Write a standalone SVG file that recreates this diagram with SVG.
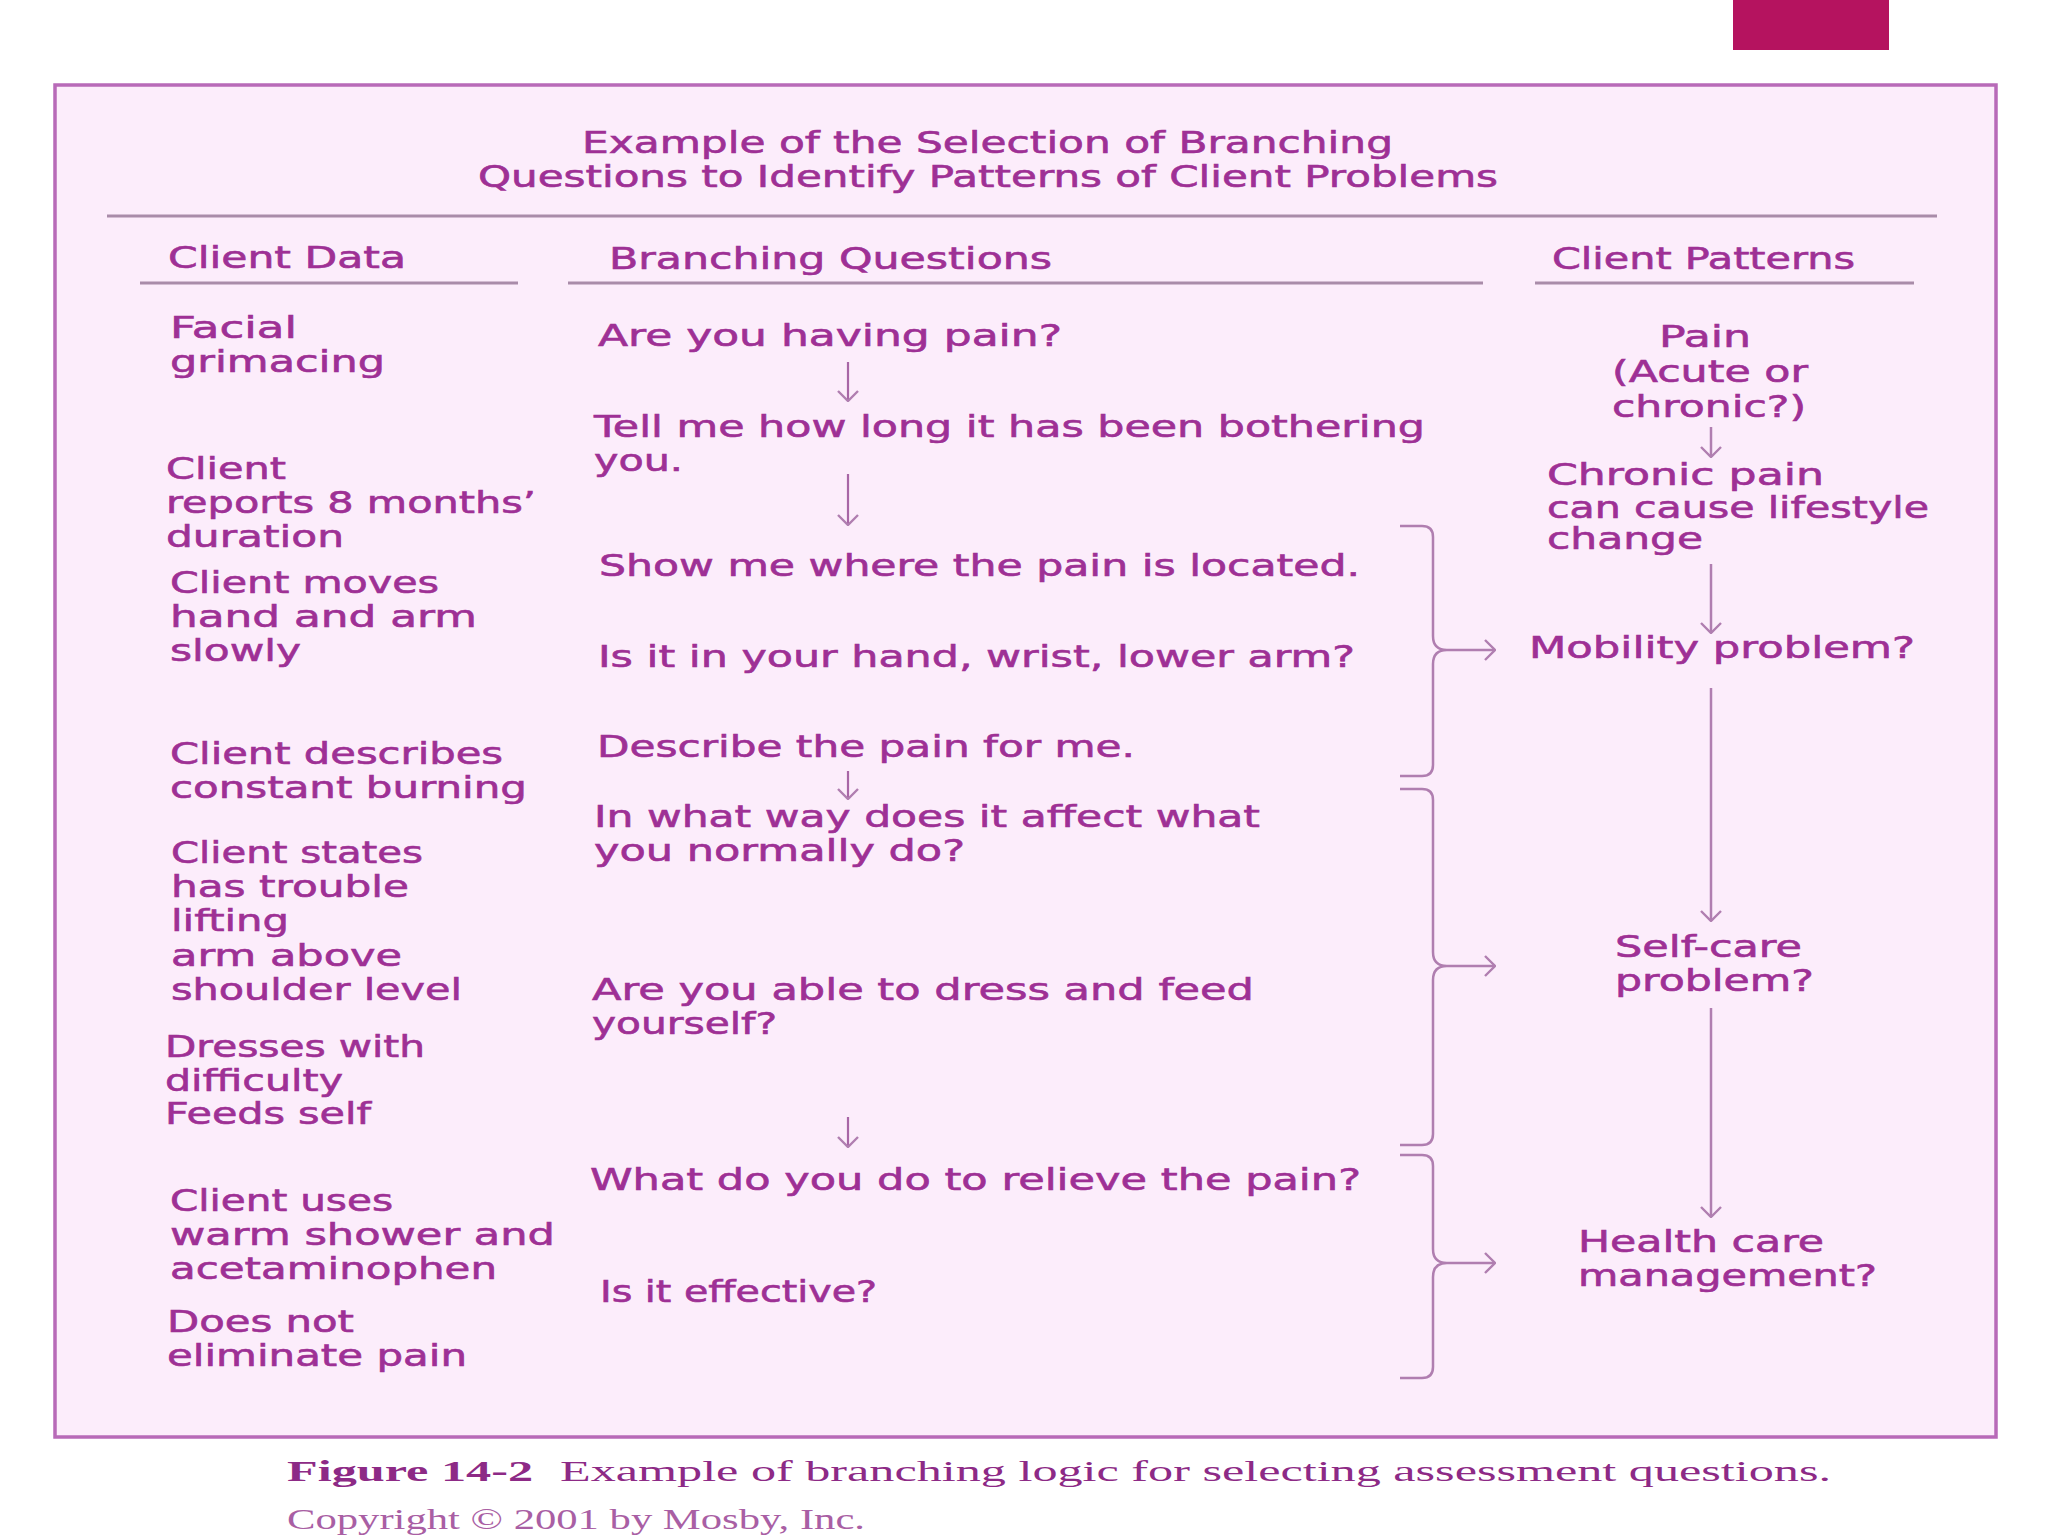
<svg xmlns="http://www.w3.org/2000/svg" width="2048" height="1536" viewBox="0 0 2048 1536">
<defs>
<style>
.t{font-family:"DejaVu Sans","Liberation Sans",sans-serif;font-size:30px;fill:#9e3095;stroke:#9e3095;stroke-width:0.6}
.cap{font-family:"Liberation Serif",serif;font-size:29px;fill:#8d2a86}
.rule{stroke:#a98ca9;stroke-width:3;fill:none}
.br{stroke:#b07eb0;stroke-width:2.5;fill:none}
.ar{stroke:#b07eb0;stroke-width:2.5;fill:none;marker-end:url(#ah)}
.ars{stroke:#a866a6;stroke-width:2.2;fill:none;marker-end:url(#ah)}
</style>
<marker id="ah" viewBox="0 0 12 22" refX="11" refY="11" markerWidth="12" markerHeight="22" markerUnits="userSpaceOnUse" orient="auto">
<path d="M1,1 L11,11 L1,21" fill="none" stroke="#b07eb0" stroke-width="2.4"/>
</marker>
</defs>
<rect width="2048" height="1536" fill="#ffffff"/>
<rect x="1733" y="0" width="156" height="50" fill="#b5135f"/>
<rect x="55" y="85" width="1941" height="1352" fill="#fcedfb" stroke="#b86ab8" stroke-width="3.5"/>

<g id="title">
<text class="t" x="582" y="153" textLength="811" lengthAdjust="spacingAndGlyphs">Example of the Selection of Branching</text>
<text class="t" x="478" y="187" textLength="1020" lengthAdjust="spacingAndGlyphs">Questions to Identify Patterns of Client Problems</text>
</g>
<g id="rules">
<line class="rule" x1="107" y1="216" x2="1937" y2="216"/>
<line class="rule" x1="140" y1="283" x2="518" y2="283"/>
<line class="rule" x1="568" y1="283" x2="1483" y2="283"/>
<line class="rule" x1="1535" y1="283" x2="1914" y2="283"/>
</g>
<g id="headers">
<text class="t" x="168" y="268" textLength="238" lengthAdjust="spacingAndGlyphs">Client Data</text>
<text class="t" x="609" y="269" textLength="443" lengthAdjust="spacingAndGlyphs">Branching Questions</text>
<text class="t" x="1552" y="269" textLength="303" lengthAdjust="spacingAndGlyphs">Client Patterns</text>
</g>

<g id="data-facial">
<text class="t" x="170" y="338" textLength="127" lengthAdjust="spacingAndGlyphs">Facial</text>
<text class="t" x="170" y="372" textLength="215" lengthAdjust="spacingAndGlyphs">grimacing</text>
</g>
<g id="data-duration">
<text class="t" x="166" y="479" textLength="120" lengthAdjust="spacingAndGlyphs">Client</text>
<text class="t" x="166" y="513" textLength="370" lengthAdjust="spacingAndGlyphs">reports 8 months’</text>
<text class="t" x="166" y="547" textLength="178" lengthAdjust="spacingAndGlyphs">duration</text>
</g>
<g id="data-moves">
<text class="t" x="170" y="593" textLength="269" lengthAdjust="spacingAndGlyphs">Client moves</text>
<text class="t" x="170" y="627" textLength="307" lengthAdjust="spacingAndGlyphs">hand and arm</text>
<text class="t" x="170" y="661" textLength="131" lengthAdjust="spacingAndGlyphs">slowly</text>
</g>
<g id="data-burning">
<text class="t" x="170" y="764" textLength="333" lengthAdjust="spacingAndGlyphs">Client describes</text>
<text class="t" x="170" y="798" textLength="357" lengthAdjust="spacingAndGlyphs">constant burning</text>
</g>
<g id="data-lifting">
<text class="t" x="171" y="863" textLength="252" lengthAdjust="spacingAndGlyphs">Client states</text>
<text class="t" x="171" y="897" textLength="238" lengthAdjust="spacingAndGlyphs">has trouble</text>
<text class="t" x="171" y="931" textLength="118" lengthAdjust="spacingAndGlyphs">lifting</text>
<text class="t" x="171" y="966" textLength="231" lengthAdjust="spacingAndGlyphs">arm above</text>
<text class="t" x="171" y="1000" textLength="291" lengthAdjust="spacingAndGlyphs">shoulder level</text>
</g>
<g id="data-dresses">
<text class="t" x="165" y="1057" textLength="260" lengthAdjust="spacingAndGlyphs">Dresses with</text>
<text class="t" x="165" y="1091" textLength="178" lengthAdjust="spacingAndGlyphs">difficulty</text>
<text class="t" x="165" y="1124" textLength="206" lengthAdjust="spacingAndGlyphs">Feeds self</text>
</g>
<g id="data-relief">
<text class="t" x="170" y="1211" textLength="223" lengthAdjust="spacingAndGlyphs">Client uses</text>
<text class="t" x="170" y="1245" textLength="385" lengthAdjust="spacingAndGlyphs">warm shower and</text>
<text class="t" x="170" y="1279" textLength="327" lengthAdjust="spacingAndGlyphs">acetaminophen</text>
</g>
<g id="data-noteliminate">
<text class="t" x="167" y="1332" textLength="187" lengthAdjust="spacingAndGlyphs">Does not</text>
<text class="t" x="167" y="1366" textLength="300" lengthAdjust="spacingAndGlyphs">eliminate pain</text>
</g>

<g id="q-pain">
<text class="t" x="598" y="346" textLength="464" lengthAdjust="spacingAndGlyphs">Are you having pain?</text>
</g>
<g id="q-howlong">
<text class="t" x="594" y="437" textLength="831" lengthAdjust="spacingAndGlyphs">Tell me how long it has been bothering</text>
<text class="t" x="594" y="471" textLength="89" lengthAdjust="spacingAndGlyphs">you.</text>
</g>
<g id="q-where">
<text class="t" x="599" y="576" textLength="761" lengthAdjust="spacingAndGlyphs">Show me where the pain is located.</text>
</g>
<g id="q-hand">
<text class="t" x="598" y="667" textLength="757" lengthAdjust="spacingAndGlyphs">Is it in your hand, wrist, lower arm?</text>
</g>
<g id="q-describe">
<text class="t" x="597" y="757" textLength="538" lengthAdjust="spacingAndGlyphs">Describe the pain for me.</text>
</g>
<g id="q-affect">
<text class="t" x="594" y="827" textLength="666" lengthAdjust="spacingAndGlyphs">In what way does it affect what</text>
<text class="t" x="594" y="861" textLength="371" lengthAdjust="spacingAndGlyphs">you normally do?</text>
</g>
<g id="q-dress">
<text class="t" x="592" y="1000" textLength="662" lengthAdjust="spacingAndGlyphs">Are you able to dress and feed</text>
<text class="t" x="592" y="1034" textLength="185" lengthAdjust="spacingAndGlyphs">yourself?</text>
</g>
<g id="q-relieve">
<text class="t" x="590" y="1190" textLength="771" lengthAdjust="spacingAndGlyphs">What do you do to relieve the pain?</text>
</g>
<g id="q-effective">
<text class="t" x="600" y="1302" textLength="277" lengthAdjust="spacingAndGlyphs">Is it effective?</text>
</g>

<g id="p-pain">
<text class="t" x="1659" y="347" textLength="92" lengthAdjust="spacingAndGlyphs">Pain</text>
<text class="t" x="1612" y="382" textLength="196" lengthAdjust="spacingAndGlyphs">(Acute or</text>
<text class="t" x="1612" y="417" textLength="194" lengthAdjust="spacingAndGlyphs">chronic?)</text>
</g>
<g id="p-chronic">
<text class="t" x="1547" y="485" textLength="277" lengthAdjust="spacingAndGlyphs">Chronic pain</text>
<text class="t" x="1547" y="518" textLength="382" lengthAdjust="spacingAndGlyphs">can cause lifestyle</text>
<text class="t" x="1547" y="549" textLength="156" lengthAdjust="spacingAndGlyphs">change</text>
</g>
<g id="p-mobility">
<text class="t" x="1529" y="658" textLength="386" lengthAdjust="spacingAndGlyphs">Mobility problem?</text>
</g>
<g id="p-selfcare">
<text class="t" x="1615" y="957" textLength="187" lengthAdjust="spacingAndGlyphs">Self-care</text>
<text class="t" x="1615" y="991" textLength="199" lengthAdjust="spacingAndGlyphs">problem?</text>
</g>
<g id="p-health">
<text class="t" x="1578" y="1252" textLength="246" lengthAdjust="spacingAndGlyphs">Health care</text>
<text class="t" x="1578" y="1286" textLength="299" lengthAdjust="spacingAndGlyphs">management?</text>
</g>

<g id="connectors">
<line class="ars" x1="848" y1="362" x2="848" y2="401"/>
<line class="ars" x1="848" y1="474" x2="848" y2="525"/>
<line class="ars" x1="848" y1="771" x2="848" y2="799"/>
<line class="ars" x1="848" y1="1117" x2="848" y2="1147"/>
<line class="ar" x1="1711" y1="427" x2="1711" y2="457"/>
<line class="ar" x1="1711" y1="564" x2="1711" y2="633"/>
<line class="ar" x1="1711" y1="688" x2="1711" y2="921"/>
<line class="ar" x1="1711" y1="1008" x2="1711" y2="1217"/>
<path class="br" d="M1400,526 H1422 Q1433,526 1433,537 V636 Q1433,650 1447,650 Q1433,650 1433,664 V765 Q1433,776 1422,776 H1400"/>
<path class="br" d="M1400,789 H1422 Q1433,789 1433,800 V952 Q1433,966 1447,966 Q1433,966 1433,980 V1134 Q1433,1145 1422,1145 H1400"/>
<path class="br" d="M1400,1155 H1422 Q1433,1155 1433,1166 V1249 Q1433,1263 1447,1263 Q1433,1263 1433,1277 V1367 Q1433,1378 1422,1378 H1400"/>
<line class="ar" x1="1447" y1="650" x2="1495" y2="650"/>
<line class="ar" x1="1447" y1="966" x2="1495" y2="966"/>
<line class="ar" x1="1447" y1="1263" x2="1495" y2="1263"/>
</g>

<g id="caption">
<text class="cap" x="287" y="1481" font-weight="bold" textLength="246" lengthAdjust="spacingAndGlyphs">Figure 14-2</text>
<text class="cap" x="560" y="1481" textLength="1271" lengthAdjust="spacingAndGlyphs">Example of branching logic for selecting assessment questions.</text>
<text class="cap" x="287" y="1529" font-size="25" textLength="578" lengthAdjust="spacingAndGlyphs" opacity="0.75">Copyright © 2001 by Mosby, Inc.</text>
</g>
</svg>
